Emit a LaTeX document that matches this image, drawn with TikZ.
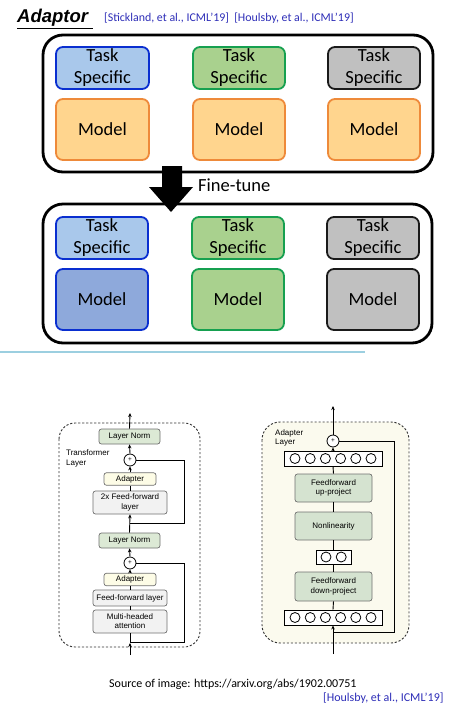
\documentclass[tikz,border=0pt]{standalone}
\usepackage{fontspec}
\setmainfont{Carlito}
\newfontfamily\arialf{Liberation Sans}
\usetikzlibrary{arrows.meta}
\definecolor{citeblue}{HTML}{2E2EB8}
\definecolor{bluefill}{HTML}{A9C8EB}
\definecolor{bluemodel}{HTML}{8EA9DB}
\definecolor{blueline}{HTML}{0A2FD0}
\definecolor{greenfill}{HTML}{A9D18E}
\definecolor{greenline}{HTML}{16A050}
\definecolor{grayfill}{HTML}{C0C0C0}
\definecolor{grayline}{HTML}{1A1A1A}
\definecolor{orangefill}{HTML}{FFD58E}
\definecolor{orangeline}{HTML}{EE8A3A}
\definecolor{sepline}{HTML}{9CCFE0}
\definecolor{lnfill}{HTML}{DCE9D5}
\definecolor{adfill}{HTML}{FDFCE6}
\definecolor{fffill}{HTML}{F2F2F2}
\definecolor{boxline}{HTML}{707070}
\definecolor{rfill}{HTML}{D5E3D0}
\definecolor{creamfill}{HTML}{FBFAEE}
\tikzset{
  bigbox/.style={rounded corners=7pt, line width=1.8pt, align=center, inner sep=0pt,
    font=\fontsize{18.5}{22}\selectfont},
  taskbox/.style={bigbox, minimum height=42pt},
  modelbox/.style={bigbox, minimum height=61pt},
  outerbox/.style={draw=black, line width=2.8pt, rounded corners=20pt, inner sep=0pt},
  smallbox/.style={draw=boxline, line width=0.7pt, rounded corners=2.5pt, align=center,
    inner sep=0pt, font=\arialf\fontsize{8}{9.2}\selectfont},
  plusnode/.style={circle, draw=black, fill=white, line width=0.8pt, minimum size=12pt,
    inner sep=0pt, font=\arialf\fontsize{6.5}{6.5}\selectfont},
  nrow/.style={draw=black, fill=white, line width=0.9pt, inner sep=0pt},
  neuron/.style={circle, draw=black, line width=0.8pt, minimum size=10pt, inner sep=0pt},
  wire/.style={line width=0.9pt, black},
  arr/.style={wire, -{Stealth[length=4pt,width=3.5pt]}},
  dashbox/.style={draw=black!80, line width=0.9pt, dash pattern=on 2.2pt off 1.8pt, rounded corners=16pt},
  lbl/.style={font=\arialf\fontsize{8}{9.4}\selectfont, align=left, inner sep=0pt, anchor=north west}
}
\begin{document}
\begin{tikzpicture}[x=1pt,y=-1pt]
\useasboundingbox (0,0) rectangle (474,716);
\fill[white] (0,0) rectangle (474,716);

% title
\node[anchor=base west, inner sep=0pt, font=\arialf\bfseries\itshape\fontsize{18.5}{20}\selectfont] (title) at (17,22) {Adaptor};
\draw[line width=1pt] (17,28) -- (93,28);
\node[anchor=base west, inner sep=0pt, text=citeblue, font=\fontsize{11.9}{14}\selectfont] (cite) at (104,21) {[Stickland, et al., ICML’19]\ \ [Houlsby, et al., ICML’19]};

% outer boxes
\node[outerbox, minimum width=390pt, minimum height=137pt] (outer1) at (238,103.5) {};
\node[outerbox, minimum width=389pt, minimum height=139pt] (outer2) at (237.5,273.5) {};

% row 1
\node[taskbox, draw=blueline, fill=bluefill, minimum width=93pt] (t11) at (102.5,68) {Task\\Specific};
\node[taskbox, draw=greenline, fill=greenfill, minimum width=92pt] (t12) at (239,68) {Task\\Specific};
\node[taskbox, draw=grayline, fill=grayfill, minimum width=92pt] (t13) at (374,68) {Task\\Specific};
\node[modelbox, draw=orangeline, fill=orangefill, minimum width=93pt] (m11) at (102.5,129.5) {Model};
\node[modelbox, draw=orangeline, fill=orangefill, minimum width=92pt] (m12) at (239,129.5) {Model};
\node[modelbox, draw=orangeline, fill=orangefill, minimum width=92pt] (m13) at (374,129.5) {Model};

% big arrow
\fill[black] (162,166) -- (182,166) -- (182,187) -- (193,187) -- (171,212) -- (149,187) -- (162,187) -- cycle;
\node[anchor=base west, inner sep=0pt, font=\fontsize{18.5}{22}\selectfont] (ft) at (198,191) {Fine-tune};

% row 2
\node[taskbox, draw=blueline, fill=bluefill, minimum width=92pt] (t21) at (102,238) {Task\\Specific};
\node[taskbox, draw=greenline, fill=greenfill, minimum width=92pt] (t22) at (238,238) {Task\\Specific};
\node[taskbox, draw=grayline, fill=grayfill, minimum width=92pt] (t23) at (373,238) {Task\\Specific};
\node[modelbox, draw=blueline, fill=bluemodel, minimum width=92pt] (m21) at (102,299.5) {Model};
\node[modelbox, draw=greenline, fill=greenfill, minimum width=92pt] (m22) at (238,299.5) {Model};
\node[modelbox, draw=grayline, fill=grayfill, minimum width=92pt] (m23) at (373,299.5) {Model};

% separator
\draw[sepline, line width=1.2pt] (0,352) -- (365,352);

% ===== left diagram: transformer layer =====
\draw[dashbox] (59,423) rectangle (200,647);
\node[lbl] (tl) at (66,450) {Transformer\\Layer};
\node[smallbox, fill=lnfill, minimum width=61pt, minimum height=15pt] (ln1) at (129.5,436.5) {Layer Norm};
\node[plusnode] (p1) at (130,460) {+};
\node[smallbox, fill=adfill, minimum width=52pt, minimum height=12.5pt] (ad1) at (130,479) {Adapter};
\node[smallbox, fill=fffill, minimum width=74pt, minimum height=23pt] (ff2) at (130,502.5) {2x Feed-forward\\layer};
\node[smallbox, fill=lnfill, minimum width=61pt, minimum height=15pt] (ln2) at (129.5,540.5) {Layer Norm};
\node[plusnode] (p2) at (130,563) {+};
\node[smallbox, fill=adfill, minimum width=52pt, minimum height=12.5pt] (ad2) at (130,579.5) {Adapter};
\node[smallbox, fill=fffill, minimum width=74pt, minimum height=16pt] (ff1) at (130,598) {Feed-forward layer};
\node[smallbox, fill=fffill, minimum width=74pt, minimum height=23pt] (mha) at (130,621.5) {Multi-headed\\attention};
\coordinate (lout) at (130,413);
\coordinate (lin) at (130,655);
\coordinate (lmid) at (130,643);
\draw[arr] (ln1.north) -- (lout);
\draw[arr] (p1.north) -- (ln1.south);
\draw[arr] (ad1.north) -- (p1.south);
\draw[wire] (ff2.north) -- (ad1.south);
\draw[arr] (ln2.north) -- (ff2.south);
\draw[arr] (p2.north) -- (ln2.south);
\draw[arr] (ad2.north) -- (p2.south);
\draw[wire] (ff1.north) -- (ad2.south);
\draw[wire] (mha.north) -- (ff1.south);
\draw[arr] (lin) -- (lmid);
\draw[wire] (lmid) -- (mha.south);
\draw[wire] (p1.east) -- (184,460) -- (184,523) -- (130,523);
\draw[wire] (p2.east) -- (184,563) -- (184,642) -- (130,642);

% ===== right diagram: adapter layer =====
\draw[dashbox, fill=creamfill, rounded corners=18pt] (262,422) rectangle (409,643);
\node[lbl] (al) at (275,429) {Adapter\\Layer};
\node[plusnode] (p3) at (333,441) {+};
\node[nrow, minimum width=98pt, minimum height=15pt] (r1) at (333,458.5) {};
\foreach \i in {0,...,5} \node[neuron] (a\i) at (295+\i*15.2,458.5) {};
\node[smallbox, fill=rfill, minimum width=77pt, minimum height=28pt] (up) at (333.5,488) {Feedforward\\up-project};
\node[smallbox, fill=rfill, minimum width=77pt, minimum height=28pt] (nl) at (333.5,526) {Nonlinearity};
\node[nrow, minimum width=35pt, minimum height=14pt] (r2) at (333.5,557) {};
\foreach \i in {0,1} \node[neuron] (b\i) at (326+\i*15.2,557) {};
\node[smallbox, fill=rfill, minimum width=77pt, minimum height=29pt] (down) at (333.5,586.5) {Feedforward\\down-project};
\node[nrow, minimum width=98pt, minimum height=15pt] (r3) at (333,617.5) {};
\foreach \i in {0,...,5} \node[neuron] (c\i) at (295+\i*15.2,617.5) {};
\coordinate (rout) at (333,406);
\coordinate (rin) at (333,654);
\draw[arr] (p3.north) -- (rout);
\draw[arr] (r1.north) -- (p3.south);
\draw[wire] (up.north) -- (r1.south);
\draw[wire] (nl.north) -- (up.south);
\draw[wire] (r2.north) -- (nl.south);
\draw[wire] (down.north) -- (r2.south);
\draw[wire] (r3.north) -- (down.south);
\draw[arr] (rin) -- (r3.south);
\draw[wire] (p3.east) -- (394,441) -- (394,632) -- (333,632);

% source text
\node[anchor=base west, inner sep=0pt, font=\fontsize{12}{14}\selectfont] (src) at (109,687) {Source of image: https://arxiv.org/abs/1902.00751};
\node[anchor=base west, inner sep=0pt, text=citeblue, font=\fontsize{12}{14}\selectfont] (cite2) at (323,701) {[Houlsby, et al., ICML’19]};
\end{tikzpicture}
\end{document}
